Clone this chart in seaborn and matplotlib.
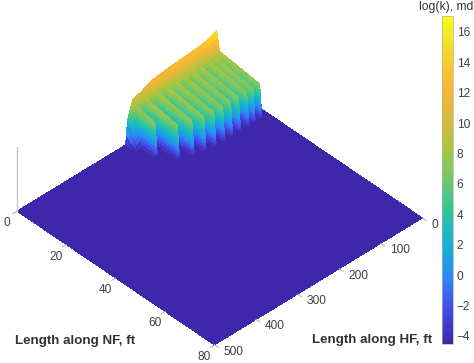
import numpy as np
import matplotlib
matplotlib.use("Agg")
import matplotlib.pyplot as plt
import seaborn as sns
from mpl_toolkits.mplot3d import proj3d

# colours, bottom to top
parula_colors = ["#3e26a8", "#4748e8", "#2d87f5", "#12b1d6", "#2cc4a0", "#6fc86a",
                 "#aec43c", "#e0b83a", "#fdb82f", "#f6d928", "#f9fb15"]

# main wall at NF = 0: height along HF
ridge_hf = [0, 16, 20, 54, 96, 135, 177, 202, 222, 234, 239, 500]
ridge_z = [-4.4, -4.4, 15.6, 14.0, 13.5, 13.0, 12.2, 10.5, 9.6, 4.0, -4.4, -4.4]
ridge_nf = [0, 0.3, 0.6, 0.9, 1.2, 1.6, 2, 2.5, 3, 3.6, 4.2, 80]
ridge_frac = [1, 0.92, 0.84, 0.76, 0.68, 0.6, 0.52, 0.43, 0.34, 0.22, 0, 0]

# the fins: where they stand, how far they reach, height near wall and at the end
fin_hf = [18, 34, 49, 69, 88, 107, 128, 149, 172, 198, 222]
fin_len = [17, 17, 17, 17, 17, 17, 17, 16.5, 15.5, 14, 9]
fin_z_wall = [9, 9, 9, 9, 9, 9, 9, 9, 9, 9, 8.5]
fin_z_end = [7, 7, 7, 7, 7, 7, 7, 7, 7, 7, 7]

# how a fin falls to the floor sideways
ramp_ft = [0, 0.2, 0.4, 0.6, 0.8, 1, 1.2, 1.4, 1.6, 1.8, 2, 2.2, 2.4, 2.6, 600]
ramp_frac = [1, 0.96, 0.92, 0.87, 0.81, 0.74, 0.66, 0.58, 0.5, 0.42, 0.32, 0.22, 0.12, 0, 0]
# and along NF past its end
end_ft = [0, 0.06, 0.12, 0.18, 0.24, 0.3, 0.36, 0.42, 0.48, 0.54, 0.6, 0.66, 0.72, 0.78, 600]

floor_z = -4.4
nf_ticks = [0, 20, 40, 60, 80]
hf_ticks = [0, 100, 200, 300, 400, 500]
cbar_ticks = [-4, -2, 0, 2, 4, 6, 8, 10, 12, 14, 16]

sns.set_theme(style="white")
plt.rcParams["font.family"] = ["Liberation Sans", "DejaVu Sans"]

parula = sns.blend_palette(parula_colors, n_colors=256, as_cmap=True)

# grid lines, packed around the walls
hf_lines = list(np.arange(0, 244, 3.0)) + [300, 400, 500] + ridge_hf
for h in fin_hf:
    hf_lines += [h + s * r for r in ramp_ft[:-1] for s in (-1, 1)]
nf_lines = list(ridge_nf) + [8, 12, 20, 40, 60]
for n in set(fin_len):
    nf_lines += [n + r for r in end_ft[:-1]]
hf_grid = np.unique(np.clip(hf_lines, 0, 500))
nf_grid = np.unique(np.clip(nf_lines, 0, 80))
HF, NF = np.meshgrid(hf_grid, nf_grid)

Z = floor_z + (np.interp(HF, ridge_hf, ridge_z) - floor_z) * np.interp(NF, ridge_nf, ridge_frac)
for h, n, zw, ze in zip(fin_hf, fin_len, fin_z_wall, fin_z_end):
    top = np.interp(NF, [0, n], [zw, ze])
    frac = np.interp(np.abs(HF - h), ramp_ft, ramp_frac) * np.interp(np.maximum(NF - n, 0), end_ft, ramp_frac)
    Z = np.maximum(Z, floor_z + (top - floor_z) * frac)

fig = plt.figure(figsize=(4.74, 3.63), dpi=100)
ax = fig.add_axes([-0.050, -0.174, 1, 1.306], projection="3d", proj_type="ortho")
ax.view_init(elev=40, azim=-43.5)
ax.set_xlim(0, 80)
ax.set_ylim(500, 0)
ax.set_zlim(-4.5, 17.5)
ax.set_box_aspect((287, 287, 84), zoom=0.848)
ax.set_axis_off()

surf = ax.plot_surface(NF, HF, Z, cmap=parula, vmin=-4.53, vmax=17.05, rstride=1, cstride=1,
                       linewidth=0, antialiased=False, shade=False)

tick_c = "#b5b5b5"
label_c = "#404040"


def floor_label(nf, hf, text, offset, ha):
    # tick labels sit on the floor edge, nudged in pixels
    px, py, _ = proj3d.proj_transform(nf, hf, floor_z, ax.get_proj())
    ax.annotate(text, (px, py), xycoords="data", xytext=offset, textcoords="offset pixels",
                color=label_c, fontsize=8.6, ha=ha, va="center")


for n in nf_ticks:
    ax.plot([n, n], [500, 510], [floor_z, floor_z], color=tick_c, lw=0.8)
    floor_label(n, 500, str(n), (-10, -12), "center")
for h in hf_ticks:
    ax.plot([80, 81.6], [h, h], [floor_z, floor_z], color=tick_c, lw=0.8)
    floor_label(80, h, str(h), (9, -7), "left")
ax.plot([0, 0], [500, 500], [floor_z, 17.5], color="#c4c4c4", lw=1)

fig.text(15 / 474, 1 - 341 / 363, "Length along NF, ft", fontsize=9.6, fontweight="bold", color="#333333", va="center")
fig.text(312 / 474, 1 - 340 / 363, "Length along HF, ft", fontsize=9.6, fontweight="bold", color="#333333", va="center")
fig.text(446.5 / 474, 1 - 7 / 363, "log(k), md", fontsize=8.7, color="#333333", ha="center", va="center")

cax = fig.add_axes([442 / 474, 1 - 344 / 363, 10.5 / 474, 328 / 363])
cbar = fig.colorbar(surf, cax=cax, ticks=cbar_ticks)
cbar.ax.tick_params(length=2.5, width=0.6, color="#808080", direction="in", labelsize=8.6,
                    labelcolor=label_c, pad=3)
cbar.outline.set_edgecolor("#b0b0b0")
cbar.outline.set_linewidth(0.5)

fig.savefig("out.png", dpi=100)
